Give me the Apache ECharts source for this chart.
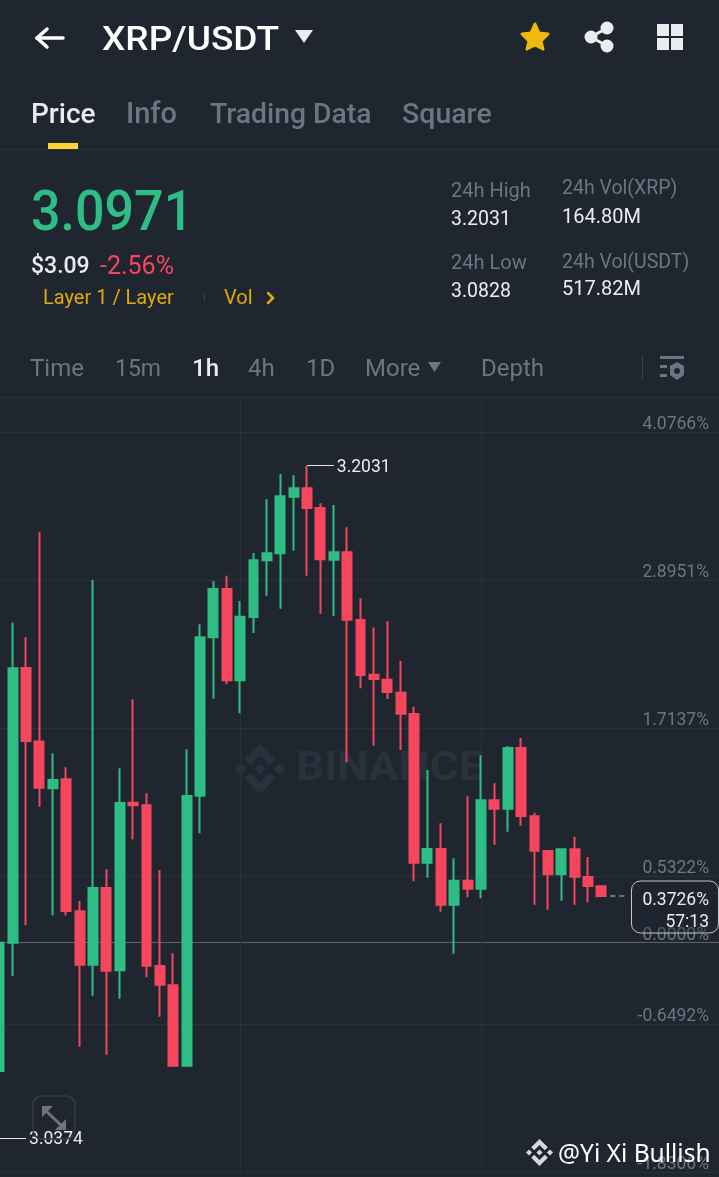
<!DOCTYPE html>
<html>
<head>
<meta charset="utf-8">
<title>XRP/USDT</title>
<style>
html, body { margin: 0; padding: 0; background: #1f2630; }
#chart { width: 719px; height: 1177px; }
</style>
<script src="https://cdn.jsdelivr.net/npm/echarts@6/dist/echarts.min.js"></script>
</head>
<body>
<div id="chart"></div>
<script>
// 1h candles, values in % against the 0% line of the axis
const openPct = [-1.024, 0.000, 2.193, 1.605, 1.233, 1.304, 0.251, -0.176, 0.437, -0.220, 1.118, 1.097, -0.186, -0.340, -0.982, 1.173, 2.438, 2.823, 2.095, 2.600, 3.053, 3.108, 3.560, 3.627, 3.470, 3.057, 3.116, 2.576, 2.139, 2.099, 1.996, 1.826, 0.639, 0.748, 0.303, 0.495, 0.431, 1.137, 1.070, 1.554, 1.009, 0.732, 0.546, 0.746, 0.524, 0.450];
const closePct = [0.000, 2.190, 1.610, 1.237, 1.299, 0.253, -0.176, 0.437, -0.224, 1.115, 1.097, -0.184, -0.335, -0.982, 1.171, 2.438, 2.823, 2.095, 2.602, 3.053, 3.108, 3.564, 3.627, 3.470, 3.061, 3.116, 2.578, 2.137, 2.105, 2.001, 1.828, 0.639, 0.748, 0.303, 0.495, 0.431, 1.137, 1.070, 1.554, 1.011, 0.734, 0.546, 0.746, 0.527, 0.453, 0.3726];
const lowPct = [-1.024, -0.266, 0.139, 1.086, 0.219, 0.216, -0.830, -0.423, -0.894, -0.447, 0.825, -0.276, -0.591, -0.990, -0.990, 0.873, 1.948, 2.063, 1.831, 2.472, 2.770, 2.666, 3.129, 2.930, 2.626, 2.608, 1.440, 2.031, 1.573, 1.945, 1.538, 0.490, 0.519, 0.247, -0.088, 0.362, 0.354, 0.782, 0.886, 0.934, 0.303, 0.263, 0.335, 0.303, 0.323, 0.367];
const highPct = [0.000, 2.555, 2.438, 3.276, 1.512, 1.400, 0.333, 2.895, 0.586, 1.392, 1.943, 1.193, 0.580, -0.085, 1.544, 2.542, 2.885, 2.930, 2.728, 3.111, 3.540, 3.742, 3.731, 3.808, 3.508, 3.494, 3.316, 2.749, 2.515, 2.566, 2.249, 1.884, 1.379, 0.953, 0.674, 1.169, 1.496, 1.272, 1.570, 1.634, 1.038, 0.738, 0.748, 0.846, 0.684, 0.450];
const tickPct = [4.0766, 2.8951, 1.7137, 0.5322, 0.0000, -0.6492, -1.8306];
const slotCount = 55; // candles plus the empty space on the right
const slots = Array.from({ length: slotCount }, (_, i) => String(i));

const lastPct = 0.3726;
const highMark = { pct: 3.808, label: '3.2031', from: 23, to: 25 };
const lowMark = { pct: -1.562, label: '3.0374', from: 0, to: 2 };
const verticalLines = [18, 36];

const BG = '#1f2630';
const GREEN = '#2ebd85';
const RED = '#f6465d';
const GOLD = '#f0b90b';
const GRAY = '#6e7582';
const WHITE = '#eaecef';
const GRID = '#2a303b';
const FONT = 'Roboto';
const LOGO_SIZE = 126.6;
const LOGO_PARTS = [
    [[38.73, 53.2], [63.32, 28.62], [87.92, 53.22], [102.22, 38.91], [63.32, 0], [24.42, 38.9]],
    [[0, 63.31], [14.3, 49], [28.61, 63.31], [14.3, 77.61]],
    [[38.73, 73.41], [63.32, 98], [87.92, 73.4], [102.23, 87.69], [63.33, 126.6], [24.42, 87.72]],
    [[98, 63.31], [112.3, 49], [126.61, 63.3], [112.3, 77.62]],
    [[77.83, 63.3], [63.32, 48.78], [48.81, 63.3], [63.32, 77.8]]
];

function txt(x, y, text, size, fill, weight, align, family) {
    return {
        type: 'text', x: x, y: y + size * 0.09, z: 10,
        style: {
            text: text, fill: fill, fontSize: size, fontFamily: family || FONT,
            fontWeight: weight || 400, align: align || 'left', verticalAlign: 'middle'
        }
    };
}
function stretched(el, sx, sy) {
    el.scaleX = sx;
    el.scaleY = sy;
    return el;
}
function poly(points, fill) {
    return { type: 'polygon', z: 10, shape: { points: points }, style: { fill: fill } };
}
function box(x, y, w, h, fill, r) {
    return { type: 'rect', z: 10, shape: { x: x, y: y, width: w, height: h, r: r || 0 }, style: { fill: fill } };
}
function seg(x1, y1, x2, y2, color, width) {
    return {
        type: 'line', z: 10, shape: { x1: x1, y1: y1, x2: x2, y2: y2 },
        style: { stroke: color, lineWidth: width, lineCap: 'round' }
    };
}
function logo(x, y, size, fill, z) {
    const k = size / LOGO_SIZE;
    return LOGO_PARTS.map(part => ({
        type: 'polygon', z: z,
        shape: { points: part.map(p => [x + p[0] * k, y + p[1] * k]) },
        style: { fill: fill }
    }));
}

// 顶部标题栏和行情信息
function headerElements() {
    return [
        // back arrow
        seg(37, 38, 63, 38, '#ffffff', 3.5), seg(37, 38, 47, 29, '#ffffff', 3.5), seg(37, 38, 47, 47, '#ffffff', 3.5),
        stretched(txt(102, 38, 'XRP/USDT', 37, '#ffffff', 500), 1, 0.92),
        poly([[295, 30], [313, 30], [304, 43]], WHITE),
        // star
        {
            type: 'polygon', z: 10,
            shape: { points: [[535, 24], [539, 33], [548, 34], [541, 41], [543, 49], [535, 45], [527, 49], [529, 41], [522, 34], [531, 33]] },
            style: { fill: GOLD, stroke: GOLD, lineWidth: 3, lineJoin: 'round' }
        },
        // share
        { type: 'circle', z: 10, shape: { cx: 607, cy: 28, r: 6.5 }, style: { fill: WHITE } },
        { type: 'circle', z: 10, shape: { cx: 591, cy: 37, r: 6.5 }, style: { fill: WHITE } },
        { type: 'circle', z: 10, shape: { cx: 607, cy: 46, r: 6.5 }, style: { fill: WHITE } },
        seg(607, 28, 591, 37, WHITE, 3), seg(591, 37, 607, 46, WHITE, 3),
        // grid
        box(657, 24, 12, 12, WHITE), box(671, 24, 12, 12, WHITE), box(657, 38, 12, 12, WHITE), box(671, 38, 12, 12, WHITE),
        // tabs
        txt(31, 113, 'Price', 28, WHITE, 500),
        txt(126, 113, 'Info', 29, GRAY, 500),
        txt(210, 113, 'Trading Data', 28.3, GRAY, 500),
        txt(402, 113, 'Square', 28.5, GRAY, 500),
        box(48, 143, 30, 6, '#fcd535'),
        box(0, 149, 719, 1, GRID),
        // price block
        stretched(txt(31, 211, '3.0971', 52, GREEN, 500), 1, 1.08),
        txt(31, 265, '$3.09', 23, WHITE, 500),
        txt(100, 265, '-2.56%', 25, RED, 400),
        txt(43, 297, 'Layer 1 / Layer', 20, '#e0a90b'),
        box(204, 293, 1, 8, '#3a404b'),
        txt(224, 297, 'Vol', 20, '#e0a90b'),
        seg(268, 293, 273, 298, '#e0a90b', 2.5), seg(273, 298, 268, 303, '#e0a90b', 2.5),
        // 24h stats
        txt(451, 190, '24h High', 20, GRAY),
        txt(451, 218, '3.2031', 19.5, WHITE),
        txt(451, 262, '24h Low', 20, GRAY),
        txt(451, 290, '3.0828', 19.5, WHITE),
        txt(562, 187, '24h Vol(XRP)', 19.5, GRAY),
        txt(562, 216, '164.80M', 20, WHITE),
        txt(562, 261, '24h Vol(USDT)', 19.5, GRAY),
        txt(562, 288, '517.82M', 20, WHITE),
        // interval bar
        txt(30, 368, 'Time', 24, GRAY),
        txt(115, 368, '15m', 23, GRAY),
        txt(192, 368, '1h', 24, WHITE, 500),
        txt(248, 368, '4h', 24, GRAY),
        txt(306, 368, '1D', 24, GRAY),
        txt(365, 368, 'More', 24, GRAY),
        poly([[428, 362], [441, 362], [434.5, 372]], GRAY),
        txt(481, 368, 'Depth', 24, GRAY),
        box(642, 355, 1, 24, '#3a404b'),
        // settings icon
        box(660, 356, 24, 3, GRAY), box(660, 365, 7, 3, GRAY), box(660, 374, 7, 3, GRAY),
        {
            type: 'polygon', z: 10,
            shape: { points: [[677, 362], [684, 366], [684, 375], [677, 380], [670, 375], [670, 366]] },
            style: { fill: GRAY }
        },
        { type: 'circle', z: 11, shape: { cx: 677, cy: 371, r: 3 }, style: { fill: BG } },
        box(0, 397, 719, 1, GRID)
    ];
}

// 图上的水印、最新价标签和缩放按钮
function overlayElements() {
    return [
        ...logo(235, 744, 50, '#2b313c', 1),
        {
            type: 'text', x: 296, y: 770, z: 1, scaleX: 1.08,
            style: { text: 'BINANCE', fill: '#2b313c', fontSize: 41, fontFamily: FONT, fontWeight: 700, verticalAlign: 'middle' }
        },
        {
            type: 'rect', z: 10, shape: { x: 631.5, y: 881, width: 87, height: 52, r: 9 },
            style: { fill: 'rgba(31,38,48,0.35)', stroke: '#c4c7cc', lineWidth: 1 }
        },
        txt(709, 899, '0.3726%', 17.5, WHITE, 400, 'right'),
        txt(709, 921, '57:13', 17.5, WHITE, 400, 'right'),
        {
            type: 'rect', z: 3, shape: { x: 33, y: 1096, width: 42, height: 43, r: 9 },
            style: { fill: 'transparent', stroke: '#353b46', lineWidth: 1.5 }
        },
        seg(45, 1110, 63, 1127, '#6f747d', 3),
        poly([[42, 1106], [53, 1106], [42, 1117]], '#6f747d'),
        poly([[66, 1130], [55, 1130], [66, 1119]], '#6f747d'),
        ...logo(526, 1139, 27, '#d8d8d8', 10),
        txt(558, 1153, '@Yi Xi Bullish', 24.5, '#ffffff', 400, 'left', 'Noto Sans')
    ];
}

function leader(mark) {
    return [
        { xAxis: slots[mark.from], yAxis: mark.pct, lineStyle: { color: '#e6e8ea', width: 1, type: 'solid' } },
        {
            xAxis: slots[mark.to], yAxis: mark.pct,
            label: {
                show: true, position: 'end', formatter: mark.label, distance: 3, offset: [0, 1.5],
                color: WHITE, fontSize: 17.5, fontFamily: FONT
            }
        }
    ];
}

function initCandleChart() {
    const chart = echarts.init(document.getElementById('chart'));
    const candles = openPct.map((o, i) => [o, closePct[i], lowPct[i], highPct[i]]);
    chart.setOption({
        animation: false,
        backgroundColor: BG,
        grid: { left: -7.4, top: 398, width: 735.9, height: 774, outerBoundsMode: 'none' },
        xAxis: {
            type: 'category',
            data: slots,
            axisLine: { show: false },
            axisTick: { show: false },
            axisLabel: { show: false },
            splitLine: { show: false }
        },
        yAxis: {
            type: 'value',
            position: 'right',
            min: -1.8306,
            max: 4.348,
            axisLine: { show: false },
            axisTick: { show: false, customValues: tickPct.filter(v => v !== 0) },
            axisLabel: {
                inside: true,
                margin: 19.5,
                customValues: tickPct,
                formatter: v => v.toFixed(4) + '%',
                color: GRAY,
                fontSize: 17.5,
                lineHeight: 14,
                fontFamily: FONT,
                verticalAlign: 'bottom'
            },
            splitLine: { show: true, lineStyle: { color: GRID, width: 1 } }
        },
        graphic: { elements: headerElements().concat(overlayElements()) },
        series: [{
            type: 'candlestick',
            data: candles,
            barWidth: 9.4,
            itemStyle: {
                color: GREEN, color0: RED,
                borderColor: GREEN, borderColor0: RED,
                borderWidth: 2
            },
            markLine: {
                z: 1,
                silent: true,
                symbol: 'none',
                label: { show: false },
                data: [
                    { yAxis: 0, lineStyle: { color: '#5d626c', width: 1.2, type: 'solid' } },
                    ...verticalLines.map(i => ({ xAxis: slots[i], lineStyle: { color: GRID, width: 1, type: 'solid' } })),
                    leader(highMark),
                    leader(lowMark),
                    [
                        { xAxis: slots[45], yAxis: lastPct, lineStyle: { color: '#8b8f97', width: 1.5, type: [5, 4] } },
                        { xAxis: slots[47], yAxis: lastPct }
                    ]
                ]
            }
        }]
    });
}

initCandleChart();
</script>
</body>
</html>
